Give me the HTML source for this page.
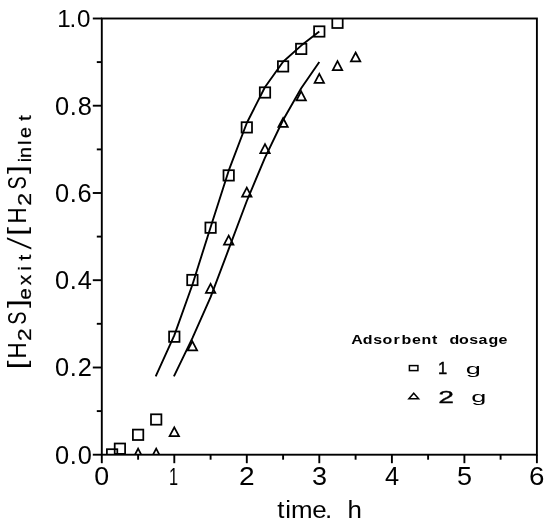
<!DOCTYPE html>
<html><head><meta charset="utf-8"><title>Breakthrough curves</title>
<style>
html,body{margin:0;padding:0;background:#fff}
svg{display:block}
text{font-family:"Liberation Sans",sans-serif;fill:#000}
</style></head><body>
<svg width="550" height="526" viewBox="0 0 550 526">
<rect x="0" y="0" width="550" height="526" fill="#fff"/>
<defs><clipPath id="c"><rect x="101.8" y="18.5" width="435.1" height="436.2"/></clipPath></defs>
<g stroke="#000" stroke-width="1.9" fill="none">
<rect x="101.8" y="18.5" width="435.1" height="436.2"/>
<line x1="101.8" y1="454.7" x2="101.8" y2="463.2"/>
<line x1="138.1" y1="454.7" x2="138.1" y2="459.7"/>
<line x1="174.3" y1="454.7" x2="174.3" y2="463.2"/>
<line x1="210.6" y1="454.7" x2="210.6" y2="459.7"/>
<line x1="246.8" y1="454.7" x2="246.8" y2="463.2"/>
<line x1="283.1" y1="454.7" x2="283.1" y2="459.7"/>
<line x1="319.3" y1="454.7" x2="319.3" y2="463.2"/>
<line x1="355.6" y1="454.7" x2="355.6" y2="459.7"/>
<line x1="391.9" y1="454.7" x2="391.9" y2="463.2"/>
<line x1="428.1" y1="454.7" x2="428.1" y2="459.7"/>
<line x1="464.4" y1="454.7" x2="464.4" y2="463.2"/>
<line x1="500.6" y1="454.7" x2="500.6" y2="459.7"/>
<line x1="536.9" y1="454.7" x2="536.9" y2="463.2"/>
<line x1="101.8" y1="454.7" x2="92.8" y2="454.7"/>
<line x1="101.8" y1="411.1" x2="96.8" y2="411.1"/>
<line x1="101.8" y1="367.5" x2="92.8" y2="367.5"/>
<line x1="101.8" y1="323.8" x2="96.8" y2="323.8"/>
<line x1="101.8" y1="280.2" x2="92.8" y2="280.2"/>
<line x1="101.8" y1="236.6" x2="96.8" y2="236.6"/>
<line x1="101.8" y1="193.0" x2="92.8" y2="193.0"/>
<line x1="101.8" y1="149.4" x2="96.8" y2="149.4"/>
<line x1="101.8" y1="105.7" x2="92.8" y2="105.7"/>
<line x1="101.8" y1="62.1" x2="96.8" y2="62.1"/>
<line x1="101.8" y1="18.5" x2="92.8" y2="18.5"/>
</g>
<g>
<text transform="translate(94.35 485.10) scale(1.054 1.000)" font-size="25.40px">0</text>
<text transform="translate(169.10 485.10) scale(0.676 1.000)" font-size="24.20px" font-family='"DejaVu Sans",sans-serif'>1</text>
<text transform="translate(239.02 485.10) scale(1.106 1.000)" font-size="25.40px">2</text>
<text transform="translate(311.92 485.10) scale(1.063 1.000)" font-size="25.40px">3</text>
<text transform="translate(384.88 485.10) scale(1.000 1.000)" font-size="25.40px">4</text>
<text transform="translate(456.90 485.10) scale(1.063 1.000)" font-size="25.40px">5</text>
<text transform="translate(529.09 485.10) scale(1.092 1.000)" font-size="25.40px">6</text>
</g>
<g>
<text y="463.60" x="55.04 69.77 77.64" font-size="25.40px">0.0</text>
<text y="376.36" x="55.04 69.77 77.64" font-size="25.40px">0.2</text>
<text y="289.12" x="55.04 69.77 77.72" font-size="25.40px">0.4</text>
<text y="201.88" x="55.04 69.77 77.55" font-size="25.40px">0.6</text>
<text y="114.64" x="55.04 69.77 77.64" font-size="25.40px">0.8</text>
<text y="27.40" x="57.29 69.47 77.01" font-size="24.20px" font-family='"DejaVu Sans",sans-serif'>1.0</text>
</g>
<text transform="translate(0 517.50) scale(1.080 1)" x="256.66 264.19 269.44 289.23 300.83 311.11 321.75" font-size="24.00px">time. h</text>
<g transform="translate(25.7,367.5) rotate(-90)"><text transform="translate(-1.72 0.00) scale(1.219 1.000)" font-size="25.60px">[</text><text transform="translate(8.98 0.00) scale(0.867 1.000)" font-size="25.60px">H</text><text transform="translate(26.45 5.50) scale(1.227 1.000)" font-size="18.60px" stroke="#000" stroke-width="0.25">2</text><text transform="translate(42.80 0.00) scale(0.774 1.000)" font-size="25.60px">S</text><text transform="translate(59.51 0.00) scale(1.219 1.000)" font-size="25.60px">]</text><text transform="translate(0 5.50) scale(1.120 1)" x="60.52 73.52 86.33 95.47" font-size="18.60px" stroke="#000" stroke-width="0.25">exit</text><text transform="translate(118.10 5.7) skewX(-11.8) scale(1 1.3)" font-size="25.60px">/</text><text transform="translate(131.83 0.00) scale(1.219 1.000)" font-size="25.60px">[</text><text transform="translate(143.88 0.00) scale(0.867 1.000)" font-size="25.60px">H</text><text transform="translate(161.64 5.50) scale(1.239 1.000)" font-size="18.60px" stroke="#000" stroke-width="0.25">2</text><text transform="translate(178.10 0.00) scale(0.774 1.000)" font-size="25.60px">S</text><text transform="translate(193.51 0.00) scale(1.219 1.000)" font-size="25.60px">]</text><text transform="translate(0 5.50) scale(1.060 1)" x="193.60 197.60 209.82 216.45 232.77" font-size="18.60px" stroke="#000" stroke-width="0.25">inlet</text></g>
<g clip-path="url(#c)" stroke="#000" stroke-width="1.75" fill="none" stroke-linejoin="miter">
<rect x="106.9" y="449.2" width="10.4" height="10.4"/>
<rect x="114.7" y="443.5" width="10.4" height="10.4"/>
<rect x="132.9" y="429.6" width="10.4" height="10.4"/>
<rect x="151.0" y="414.3" width="10.4" height="10.4"/>
<rect x="169.1" y="331.5" width="10.4" height="10.4"/>
<rect x="187.2" y="274.8" width="10.4" height="10.4"/>
<rect x="205.4" y="222.5" width="10.4" height="10.4"/>
<rect x="223.5" y="170.2" width="10.4" height="10.4"/>
<rect x="241.6" y="122.2" width="10.4" height="10.4"/>
<rect x="259.8" y="87.3" width="10.4" height="10.4"/>
<rect x="277.9" y="61.2" width="10.4" height="10.4"/>
<rect x="296.0" y="43.7" width="10.4" height="10.4"/>
<rect x="314.1" y="26.3" width="10.4" height="10.4"/>
<rect x="332.3" y="17.6" width="10.4" height="10.4"/>
<path d="M138.1 448.7L142.8 457.6L133.4 457.6Z"/>
<path d="M156.2 448.7L160.9 457.6L151.5 457.6Z"/>
<path d="M174.3 427.3L179.0 436.2L169.6 436.2Z"/>
<path d="M192.4 341.4L197.1 350.3L187.7 350.3Z"/>
<path d="M210.6 283.9L215.3 292.8L205.9 292.8Z"/>
<path d="M228.7 235.7L233.4 244.6L224.0 244.6Z"/>
<path d="M246.8 187.7L251.5 196.6L242.1 196.6Z"/>
<path d="M265.0 144.2L269.7 153.1L260.3 153.1Z"/>
<path d="M283.1 118.0L287.8 126.9L278.4 126.9Z"/>
<path d="M301.2 91.4L305.9 100.3L296.5 100.3Z"/>
<path d="M319.3 73.9L324.0 82.8L314.6 82.8Z"/>
<path d="M337.5 61.1L342.2 70.0L332.8 70.0Z"/>
<path d="M355.6 52.5L360.3 61.4L350.9 61.4Z"/>
<path d="M155.7 376.3L174.3 335.4L192.4 284.7L210.6 227.2L228.7 170.7L246.8 123.0L264.9 87.2L283.1 61.8L301.2 45.6L319.3 31.5" stroke-width="1.9" stroke-linejoin="round"/>
<path d="M173.9 376.3L192.4 338.2L210.6 297.2L228.7 249.2L246.8 201.0L264.9 157.8L283.1 120.0L301.2 88.3L319.3 62.0" stroke-width="1.9" stroke-linejoin="round"/>
</g>
<text transform="translate(0 344.30) scale(1.270 1)" x="276.64 285.64 293.86 301.11 309.91 316.15 324.46 331.88 340.11 348.82 353.95 361.51 369.49 376.82 384.58 392.49" font-size="12.60px" font-family='"Liberation Sans",sans-serif' font-weight="bold">Adsorbent dosage</text>
<g stroke="#000" stroke-width="1.5" fill="none"><rect x="409.4" y="365.6" width="8.5" height="5"/><path d="M413.75 393.2L418.6 398.7L408.9 398.7Z"/></g>
<g>
<text transform="translate(437.98 374.00) scale(0.953 1.000)" font-size="17.40px" font-family='"DejaVu Sans",sans-serif' stroke="#000" stroke-width="0.45">1</text>
<text transform="translate(465.66 373.70) scale(1.773 1.000)" font-size="15.30px">g</text>
<text transform="translate(438.28 403.10) scale(1.637 1.000)" font-size="17.30px" stroke="#000" stroke-width="0.3">2</text>
<text transform="translate(471.16 402.30) scale(1.773 1.000)" font-size="15.30px">g</text>
</g>
</svg>
</body></html>
